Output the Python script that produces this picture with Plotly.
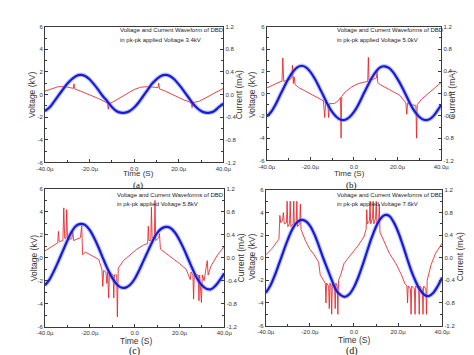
import plotly.graph_objects as go

W, H = 474, 355

# ---------------- data ----------------
t_v = [-40, -38, -36, -34, -32, -30, -28, -26, -24, -22, -20, -18, -16, -14, -12, -10, -8, -6, -4, -2,
       0, 2, 4, 6, 8, 10, 12, 14, 16, 18, 20, 22, 24, 26, 28, 30, 32, 34, 36, 38, 40]

volt_a = [-1.45, -1.15, -0.65, -0.1, 0.45, 0.95, 1.35, 1.65, 1.75, 1.65, 1.35, 0.9, 0.4, -0.15, -0.6, -1.1,
          -1.45, -1.6, -1.6, -1.45, -1.15, -0.7, -0.15, 0.4, 0.95, 1.35, 1.65, 1.75, 1.65, 1.35, 0.9, 0.4,
          -0.15, -0.7, -1.15, -1.45, -1.6, -1.6, -1.45, -1.1, -0.8]
volt_b = [-2.05, -1.65, -1.0, -0.2, 0.6, 1.35, 1.95, 2.35, 2.5, 2.35, 1.95, 1.35, 0.6, -0.2, -1.0, -1.65,
          -2.1, -2.35, -2.35, -2.1, -1.65, -1.0, -0.2, 0.6, 1.35, 1.95, 2.35, 2.45, 2.3, 1.9, 1.3, 0.6,
          -0.2, -1.0, -1.65, -2.1, -2.35, -2.35, -2.1, -1.6, -1.0]
volt_c = [-2.4, -1.9, -1.15, -0.3, 0.6, 1.5, 2.3, 2.8, 2.95, 2.85, 2.4, 1.7, 0.85, -0.1, -1.0, -1.75,
          -2.3, -2.6, -2.6, -2.35, -1.85, -1.1, -0.25, 0.6, 1.45, 2.15, 2.55, 2.7, 2.6, 2.2, 1.55, 0.75,
          -0.15, -1.05, -1.85, -2.4, -2.7, -2.75, -2.45, -1.95, -1.35]
volt_d = [-3.1, -2.5, -1.6, -0.55, 0.55, 1.6, 2.5, 3.1, 3.35, 3.25, 2.85, 2.1, 1.1, 0.0, -1.0, -2.0,
          -2.9, -3.3, -3.45, -3.2, -2.6, -1.7, -0.6, 0.6, 1.75, 2.75, 3.45, 3.78, 3.7, 3.15, 2.3, 1.2,
          0.0, -1.15, -2.1, -2.85, -3.3, -3.38, -3.1, -2.5, -1.75]

t_ia = [-40, -37, -34, -31, -28, -27.3, -27, -26.6, -24, -20, -16, -13, -12, -11.6, -11.2, -9, -6, -3, 0,
        3, 6, 9, 10.7, 11, 11.4, 14, 18, 22, 25.5, 26, 26.5, 29, 32, 35, 38, 40]
cur_a = [0.06, 0.10, 0.14, 0.14, 0.12, 0.11, 0.19, 0.10, 0.06, 0.0, -0.07, -0.13, -0.15, -0.26, -0.16,
         -0.12, -0.05, 0.03, 0.09, 0.13, 0.14, 0.13, 0.12, 0.2, 0.1, 0.06, -0.02, -0.09, -0.14, -0.23,
         -0.14, -0.12, -0.06, 0.0, 0.07, 0.11]

t_ib = [-40, -37, -34, -33, -32.6, -32.2, -30, -28.5, -28.2, -27.8, -27.4, -27, -25, -23, -19, -16, -14,
        -13.4, -13, -12, -11.6, -11.2, -9, -7, -6.2, -5.9, -5.6, -4, -1, 2, 5, 6.3, 6.6, 6.9, 9, 10.3,
        10.6, 10.9, 12, 15, 18, 21, 23.8, 24.2, 24.6, 27, 28.4, 28.7, 29, 31, 34, 37, 40]
cur_b = [0.10, 0.16, 0.21, 0.22, 0.64, 0.22, 0.24, 0.28, 0.51, 0.18, 0.3, 0.16, 0.10, 0.06, -0.02, -0.08,
         -0.13, -0.43, -0.15, -0.18, -0.43, -0.18, -0.18, -0.12, -0.07, -0.8, -0.05, 0.03, 0.12, 0.18,
         0.21, 0.22, 0.65, 0.24, 0.26, 0.28, 0.4, 0.2, 0.16, 0.1, 0.03, -0.03, -0.17, -0.37, -0.17, -0.2,
         -0.22, -0.8, -0.2, -0.1, 0.0, 0.11, 0.2]

t_ic = [-40, -37, -35, -34.3, -34, -33.6, -32, -31.6, -31.2, -30.6, -30.3, -29.9, -28, -27.6, -27.2,
        -24.2, -23.6, -23.2, -22, -19, -16, -14.6, -14.2, -13.8, -12.8, -12.4, -12, -11.6, -11.2, -9.6,
        -9.3, -9, -8, -7.7, -7.3, -5, -2, 1, 4, 5.8, 6.1, 6.4, 7.2, 7.5, 7.8, 8.8, 9.1, 9.4, 10.8, 11.1,
        11.5, 14, 17, 20, 23, 24.8, 25.2, 26, 26.3, 26.6, 28.4, 28.7, 29, 29.8, 30.2, 31, 32.4, 32.8, 34,
        37, 40]
cur_c = [0.12, 0.2, 0.24, 0.26, 0.46, 0.28, 0.3, 0.87, 0.34, 0.34, 0.84, 0.32, 0.33, 0.46, 0.3, 0.35,
         0.56, 0.05, 0.1, 0.04, -0.03, -0.2, -0.5, -0.22, -0.25, -0.45, -0.25, -0.7, -0.25, -0.3, -0.7,
         -0.3, -0.3, -1.03, -0.18, -0.05, 0.05, 0.15, 0.22, 0.25, 0.55, 0.3, 0.3, 0.88, 0.35, 0.35, 1.0,
         0.3, 0.35, 0.42, 0.15, 0.08, 0.0, -0.1, -0.2, -0.38, -0.25, -0.3, -0.72, -0.3, -0.3, -0.75, -0.3,
         -0.78, -0.3, -0.4, -0.05, -0.3, -0.15, 0.05, 0.2]

t_id = [-40, -37, -35, -34, -33.6, -33.2, -32.4, -32, -31.6, -30.6, -30.3, -30, -29.2, -28.9, -28.6,
        -27.6, -27.3, -27, -26.2, -25.9, -25.6, -24.6, -24.3, -24, -22, -20, -18, -16, -15.3, -14, -13,
        -12.7, -12.4, -11.5, -11.2, -10.9, -10.4, -10.1, -9.8, -8.8, -8.5, -8.2, -7.6, -7.3, -7.0, -6,
        -4.5, -1.5, 2, 4.5, 5.5, 5.8, 6.1, 7, 7.3, 7.6, 8.4, 8.7, 9, 9.8, 10.1, 10.4, 11.2, 11.5, 11.8,
        13, 16, 19, 21.5, 23, 24, 24.3, 24.6, 25.6, 25.9, 26.2, 27.4, 27.7, 28, 29.3, 29.6, 29.9, 31,
        31.3, 31.6, 32.6, 32.9, 33.2, 35, 37, 40]
cur_d = [0.05, 0.17, 0.28, 0.33, 0.75, 0.62, 0.66, 0.8, 0.6, 0.62, 1.0, 0.55, 0.6, 1.0, 0.55, 0.6, 1.0,
         0.55, 0.6, 1.0, 0.55, 0.6, 0.95, 0.5, 0.3, 0.15, 0.05, -0.08, -0.3, -0.4, -0.45, -0.8, -0.45,
         -0.5, -0.9, -0.45, -0.5, -1.0, -0.45, -0.5, -0.9, -0.45, -0.5, -1.0, -0.4, -0.3, -0.1, 0.05,
         0.22, 0.37, 0.5, 0.85, 0.6, 0.65, 1.0, 0.6, 0.7, 1.0, 0.6, 0.7, 1.0, 0.6, 0.65, 0.95, 0.45,
         0.35, 0.08, -0.1, -0.3, -0.45, -0.5, -0.8, -0.5, -0.55, -1.0, -0.5, -0.55, -1.0, -0.5, -0.55,
         -1.0, -0.5, -0.55, -1.0, -0.5, -0.55, -1.0, -0.4, -0.12, 0.08, 0.26]

applied_kv = ["3.4kV", "5.0kV", "5.8kV", "7.6kV"]
title_line1 = ["Voltage and Current Waveform of DBD", "Voltage and Current Waveforms of DBD",
               "Voltage and Current Waveforms of DBD", "Voltage and Current Waveforms of DBD"]
captions = ["(a)", "(b)", "(c)", "(d)"]

x_ticks = [-40, -20, 0, 20, 40]
x_ticktext = ["-40.0\u00b5", "-20.0\u00b5", "0.0", "20.0\u00b5", "40.0\u00b5"]
v_ticks = [-6, -4, -2, 0, 2, 4, 6]
v_ticktext = ["-6", "-4", "-2", "0", "2", "4", "6"]
i_ticks = [-1.2, -0.8, -0.4, 0.0, 0.4, 0.8, 1.2]
i_ticktext = ["-1.2", "-0.8", "-0.4", "0.0", "0.4", "0.8", "1.2"]

volts = [volt_a, volt_b, volt_c, volt_d]
currents = [(t_ia, cur_a), (t_ib, cur_b), (t_ic, cur_c), (t_id, cur_d)]

# ---------------- layout (pixel geometry) ----------------
panels = [
    dict(x0=29, x1=214, y0=16, y1=154, tx=105, ty=(19.5, 29.5), vx=15, cx=230, yc=85, timex=126, timey=165.5, timesize=8, capx=125, capy=176.5, capsize=9),
    dict(x0=259, x1=440, y0=16, y1=152, tx=330, ty=(19.5, 29.5), vx=243, cx=451, yc=85, timex=345, timey=165.5, timesize=8, capx=347, capy=176.5, capsize=9),
    dict(x0=29, x1=215, y0=181, y1=321, tx=102, ty=(187, 196), vx=17, cx=232, yc=251, timex=123, timey=336, timesize=8.5, capx=122, capy=346, capsize=10),
    dict(x0=258, x1=441, y0=182, y1=320, tx=330, ty=(187, 196), vx=244, cx=459, yc=250, timex=350, timey=335, timesize=8.5, capx=347, capy=346, capsize=10),
]

def fx(p):
    return p / W

def fy(p):
    return 1 - p / H

FONT = "Liberation Sans, Arial, sans-serif"
AX = "#3a3a3a"
RED = "rgba(232,35,40,0.85)"
BLUE = "#1a1ad2"
BLUE_FUZZ = "rgba(110,130,255,0.45)"

fig = go.Figure()
layout = dict(
    width=W, height=H, margin=dict(l=0, r=0, t=0, b=0),
    paper_bgcolor="white", plot_bgcolor="white", showlegend=False,
    font=dict(family=FONT, color="#333", size=6),
)
annotations = []

for k, P in enumerate(panels):
    n = k + 1
    xa = f"x{n}" if n > 1 else "x"
    yi_n = 2 * n - 1
    yv_n = 2 * n
    yi = f"y{yi_n}" if yi_n > 1 else "y"
    yv = f"y{yv_n}"

    tI, cI = currents[k]
    fig.add_trace(go.Scatter(x=tI, y=cI, mode="lines", line=dict(color=RED, width=1),
                             xaxis=xa, yaxis=yi, hoverinfo="skip"))
    fig.add_trace(go.Scatter(x=t_v, y=volts[k], mode="lines", line=dict(color=BLUE_FUZZ, width=4.5, shape="spline"),
                             xaxis=xa, yaxis=yv, hoverinfo="skip"))
    fig.add_trace(go.Scatter(x=t_v, y=volts[k], mode="lines", line=dict(color=BLUE, width=2.2, shape="spline"),
                             xaxis=xa, yaxis=yv, hoverinfo="skip"))

    xkey = "xaxis" if n == 1 else f"xaxis{n}"
    layout[xkey] = dict(
        domain=[fx(P["x0"]), fx(P["x1"])], anchor=yi, range=[-40, 40],
        tickvals=x_ticks, ticktext=x_ticktext, ticks="inside", ticklen=3, tickcolor=AX,
        minor=dict(tickvals=[-30, -10, 10, 30], ticks="inside", ticklen=2, tickcolor=AX),
        showline=True, linecolor=AX, linewidth=1, mirror=True, showgrid=False, zeroline=False,
        tickfont=dict(size=6, color="#333"), fixedrange=True,
    )
    ikey = "yaxis" if yi_n == 1 else f"yaxis{yi_n}"
    layout[ikey] = dict(
        domain=[fy(P["y1"]), fy(P["y0"])], anchor=xa, side="right", range=[-1.2, 1.2],
        tickvals=i_ticks, ticktext=i_ticktext, ticks="inside", ticklen=3, tickcolor=AX,
        minor=dict(tickvals=[-1.0, -0.6, -0.2, 0.2, 0.6, 1.0], ticks="inside", ticklen=2, tickcolor=AX),
        showline=True, linecolor=AX, linewidth=1, showgrid=False, zeroline=False,
        tickfont=dict(size=6, color="#333"), fixedrange=True,
    )
    layout[f"yaxis{yv_n}"] = dict(
        overlaying=yi, anchor=xa, side="left", range=[-6, 6],
        tickvals=v_ticks, ticktext=v_ticktext, ticks="inside", ticklen=3, tickcolor=AX,
        minor=dict(tickvals=[-5, -3, -1, 1, 3, 5], ticks="inside", ticklen=2, tickcolor=AX),
        showline=True, linecolor=AX, linewidth=1, showgrid=False, zeroline=False,
        tickfont=dict(size=6, color="#333"), fixedrange=True,
    )

    # in-plot title
    annotations.append(dict(xref="paper", yref="paper", x=fx(P["tx"]), y=fy(P["ty"][0]),
                            xanchor="left", yanchor="middle", showarrow=False,
                            text=title_line1[k], font=dict(size=6, color="#222", family=FONT)))
    annotations.append(dict(xref="paper", yref="paper", x=fx(P["tx"]), y=fy(P["ty"][1]),
                            xanchor="left", yanchor="middle", showarrow=False,
                            text="in pk-pk applied Voltage " + applied_kv[k],
                            font=dict(size=6, color="#222", family=FONT)))
    # axis titles
    annotations.append(dict(xref="paper", yref="paper", x=fx(P["vx"]), y=fy(P["yc"]),
                            xanchor="center", yanchor="middle", showarrow=False, textangle=-90,
                            text="Voltage (kV)", font=dict(size=8.5, color="#333", family=FONT)))
    annotations.append(dict(xref="paper", yref="paper", x=fx(P["cx"]), y=fy(P["yc"]),
                            xanchor="center", yanchor="middle", showarrow=False, textangle=-90,
                            text="Current (mA)", font=dict(size=8.5, color="#333", family=FONT)))
    annotations.append(dict(xref="paper", yref="paper", x=fx(P["timex"]), y=fy(P["timey"]),
                            xanchor="center", yanchor="middle", showarrow=False,
                            text="Time (S)", font=dict(size=P["timesize"], color="#333", family=FONT)))
    annotations.append(dict(xref="paper", yref="paper", x=fx(P["capx"]), y=fy(P["capy"]),
                            xanchor="center", yanchor="middle", showarrow=False,
                            text=captions[k], font=dict(size=P["capsize"], color="#111", family="Liberation Serif, Times New Roman, serif")))

layout["annotations"] = annotations
fig.update_layout(**layout)
fig.write_html("out.html")
